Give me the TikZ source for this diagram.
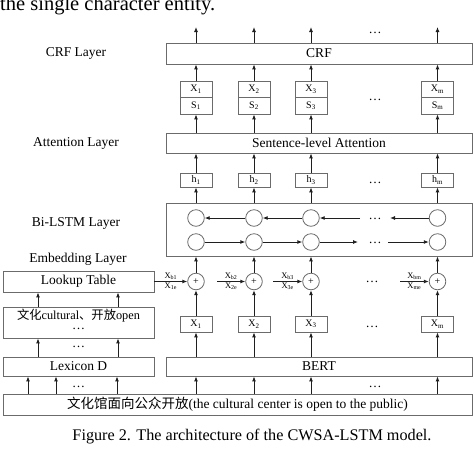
\documentclass[tikz,border=0pt]{standalone}
\usepackage{fontspec}
\setmainfont{Liberation Serif}
\newfontfamily\cjk{Noto Sans CJK SC}
\usetikzlibrary{arrows.meta}
\definecolor{boxc}{gray}{0.42}
\definecolor{linec}{gray}{0.12}
\begin{document}
\begin{tikzpicture}[x=1pt,y=-1pt,
  frame/.style={draw=boxc, line width=0.8pt, inner sep=0pt},
  wide/.style={frame, minimum width=306pt, minimum height=#1, font=\fontsize{13.5}{15}\selectfont},
  leftbox/.style={frame, minimum width=151pt, minimum height=#1, font=\fontsize{13.5}{15}\selectfont},
  small/.style={frame, minimum width=32pt, minimum height=#1, font=\fontsize{10}{11}\selectfont},
  cell/.style={circle, draw=boxc, line width=0.8pt, minimum size=16.6pt, inner sep=0pt, font=\fontsize{10}{11}\selectfont},
  arr/.style={draw=linec, line width=0.9pt, -{Latex[length=5pt,width=4pt]}},
  lbl/.style={inner sep=0pt, font=\fontsize{13.5}{15}\selectfont},
  dots/.style={inner sep=0pt, font=\fontsize{13}{14}\selectfont},
  sub/.style={inner sep=1pt, font=\fontsize{8.5}{9}\selectfont}]
\useasboundingbox (0,0) rectangle (474,448);

% clipped text at top and caption
\node[anchor=base west, inner sep=0pt, font=\fontsize{20.5}{22}\selectfont] (toptext) at (0,10) {the single character entity.};
\node[anchor=base, inner sep=0pt, font=\fontsize{16.2}{18}\selectfont] (caption) at (252,440) {Figure 2. The architecture of the CWSA-LSTM model.};

% layer labels
\node[lbl] (lcrf) at (76,53) {CRF Layer};
\node[lbl] (latt) at (76,143) {Attention Layer};
\node[lbl] (llstm) at (76,223) {Bi-LSTM Layer};
\node[lbl] (lemb) at (78,259) {Embedding Layer};

% wide boxes
\node[wide=21pt] (crf) at (319,53.5) {CRF};
\node[wide=20pt] (att) at (319,143) {Sentence-level Attention};
\node[wide=53pt] (lstm) at (319,229.5) {};
\node[wide=19pt] (bert) at (319,366.5) {BERT};
\node[frame, minimum width=469pt, minimum height=21pt, font=\fontsize{13.5}{15}\selectfont] (sent) at (237.5,404.5) {{\cjk 文化馆面向公众开放}(the cultural center is open to the public)};

% left column
\node[leftbox=21pt] (lookup) at (78.5,281.5) {Lookup Table};
\node[leftbox=31pt] (phrase) at (78.5,322.5) {};
\node[inner sep=0pt, font=\fontsize{12.3}{13}\selectfont] (phrasetxt) at (78.5,315.5) {{\cjk 文化}cultural{\cjk 、开放}open};
\node[dots] (d1) at (78.5,329) {…};
\node[leftbox=19pt] (lex) at (78.5,366.5) {Lexicon D};
\node[dots] (d2) at (78.5,347) {…};
\node[dots] (d3) at (78.5,387) {…};

\coordinate (u1) at (38,0);
\coordinate (u2) at (118,0);
\coordinate (w1) at (28,0);
\coordinate (w2) at (56,0);
\coordinate (w3) at (117,0);
\foreach \u in {u1,u2}{
  \draw[arr] (phrase.north -| \u) -- (lookup.south -| \u);
  \draw[arr] (lex.north -| \u) -- (phrase.south -| \u);
}
\foreach \w in {w1,w2,w3}{
  \draw[arr] (sent.north -| \w) -- (lex.south -| \w);
}

% columns
\foreach \i/\c in {1/196,2/254,3/311,m/437.5}{
  \coordinate (t\i) at (\c,27);
  \draw[arr] (crf.north -| t\i) -- (t\i);
  \node[small=16.5pt] (x\i) at (\c,89.25) {X\textsubscript{\i}};
  \node[small=16.5pt] (s\i) at (\c,105.75) {S\textsubscript{\i}};
  \draw[arr] (x\i.north) -- (x\i.north |- crf.south);
  \draw[arr] (att.north -| s\i) -- (s\i.south);
  \node[small=14pt] (h\i) at (\c,180) {h\textsubscript{\i}};
  \draw[arr] (h\i.north) -- (h\i.north |- att.south);
  \draw[arr] (lstm.north -| h\i) -- (h\i.south);
  \node[cell] (l\i) at (\c,218) {};
  \node[cell] (r\i) at (\c,242) {};
  \node[cell] (p\i) at (\c,281.5) {+};
  \draw[arr] (p\i.north) -- (p\i.north |- lstm.south);
  \node[small=16pt] (e\i) at (\c,324) {X\textsubscript{\i}};
  \draw[arr] (e\i.north) -- (p\i.south);
  \draw[arr] (bert.north -| e\i) -- (e\i.south);
  \draw[arr] (sent.north -| e\i) -- (e\i.south |- bert.south);
}

% Bi-LSTM arrows
\coordinate (lb) at (360,218);
\coordinate (la) at (390,218);
\coordinate (rb) at (358,242);
\coordinate (ra) at (388,242);
\draw[arr] (l2) -- (l1);
\draw[arr] (l3) -- (l2);
\draw[arr] (lb) -- (l3);
\draw[arr] (lm) -- (la);
\draw[arr] (r1) -- (r2);
\draw[arr] (r2) -- (r3);
\draw[arr] (r3) -- (rb);
\draw[arr] (ra) -- (rm);

% inputs to plus nodes
\coordinate (a2) at (217,281.5);
\coordinate (a3) at (273,281.5);
\coordinate (am) at (400,281.5);
\draw[arr] (lookup.east) -- (p1.west) node[midway,above,sub]{X\textsubscript{b1}} node[midway,below,sub]{X\textsubscript{1e}};
\draw[arr] (a2) -- (p2.west) node[midway,above,sub]{X\textsubscript{b2}} node[midway,below,sub]{X\textsubscript{2e}};
\draw[arr] (a3) -- (p3.west) node[midway,above,sub]{X\textsubscript{b3}} node[midway,below,sub]{X\textsubscript{3e}};
\draw[arr] (am) -- (pm.west) node[midway,above,sub]{X\textsubscript{bm}} node[midway,below,sub]{X\textsubscript{me}};

% dots
\node[dots] (dt) at (375,33) {…};
\node[dots] (dxs) at (375,100) {…};
\node[dots] (dh) at (375,183) {…};
\node[dots] (dl) at (375,219) {…};
\node[dots] (dr) at (375,243) {…};
\node[dots] (dp) at (372,281.5) {…};
\node[dots] (de) at (372,327) {…};
\node[dots] (ds) at (375,387) {…};
\end{tikzpicture}
\end{document}
